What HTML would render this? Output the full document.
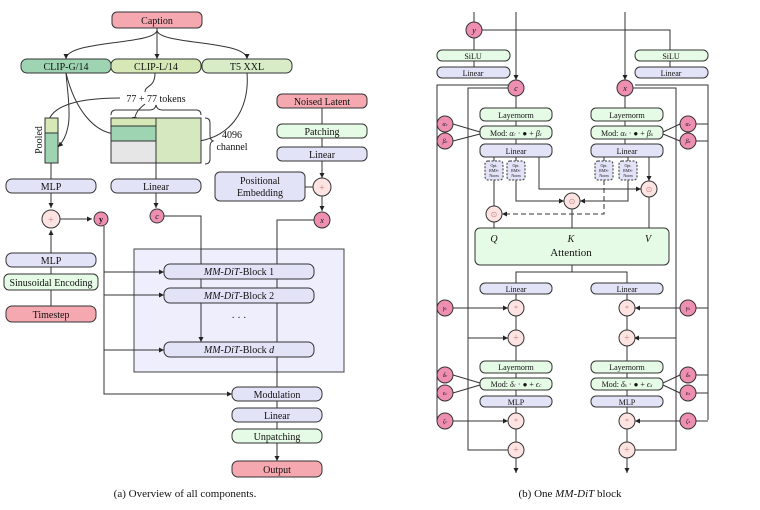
<!DOCTYPE html>
<html><head><meta charset="utf-8"><style>
html,body{margin:0;padding:0;background:#fff;}
svg{display:block;font-family:"Liberation Serif",serif;}
</style></head><body>
<svg width="760" height="510" viewBox="0 0 760 510" xmlns="http://www.w3.org/2000/svg">
<defs>
<marker id="a" markerWidth="6" markerHeight="6" refX="5" refY="3" orient="auto" markerUnits="userSpaceOnUse"><path d="M0,0.5 L5,3 L0,5.5 z" fill="#222"/></marker>
</defs>
<g stroke="#333" stroke-width="1" fill="none">
<path d="M157,28 V59" marker-end="url(#a)"/>
<path d="M157,30 C157,45 66,40 66,59" marker-end="url(#a)"/>
<path d="M157,30 C157,45 247,40 247,59" marker-end="url(#a)"/>
<path d="M155,73 C155,88 145,85 145,92"/>
<path d="M145,104 C140,108 135,112 134,122" marker-end="url(#a)"/>
<path d="M120,98 C80,98 50,105 48,124" marker-end="url(#a)"/>
<path d="M66,73 C68,100 75,130 58,147" marker-end="url(#a)"/>
<path d="M66,73 C75,110 95,134 118,134" marker-end="url(#a)"/>
<path d="M247,73 C250,110 230,142 186,142" marker-end="url(#a)"/>
<path d="M111,115 q0,-5 5,-5 h34 q5,0 6,-5 q1,5 6,5 h34 q5,0 5,5"/>
<path d="M205,118 q5,0 5,5 v12 q0,5 3,6 q-3,1 -3,6 v12 q0,5 -5,5"/>
<path d="M51,163 V179"/>
<path d="M156,163 V179"/>
<path d="M51,193 V208" marker-end="url(#a)"/>
<path d="M60,219 H92" marker-end="url(#a)"/>
<path d="M51,253 V230" marker-end="url(#a)"/>
<path d="M51,267 V274 M51,290 V306"/>
<path d="M156,193 V208" marker-end="url(#a)"/>
<path d="M164,216 H201 V342" marker-end="url(#a)"/>
<path d="M322,108 V124 M322,138 V147"/>
<path d="M322,161 V178" marker-end="url(#a)"/>
<path d="M305,187 H314"/>
<path d="M322,196 V211" marker-end="url(#a)"/>
<path d="M314,220 H277 V387"/>
<path d="M104,226 V394 H232" marker-end="url(#a)"/>
<path d="M277,401 V408 M277,422 V429"/>
<path d="M277,443 V461" marker-end="url(#a)"/>
</g>
<rect x="134" y="249" width="210" height="123" fill="#eeeefc" stroke="#444" stroke-width="1"/>
<g stroke="#333" stroke-width="1" fill="none">
<path d="M201,249 V342" marker-end="url(#a)"/>
<path d="M277,249 V387"/>
<path d="M104,272 H164" marker-end="url(#a)"/>
<path d="M104,295 H164" marker-end="url(#a)"/>
<path d="M104,350 H164" marker-end="url(#a)"/>
</g>
<g stroke="#333" stroke-width="1">
<rect x="112" y="12" width="90" height="16" rx="5" fill="#f6a8b0"/>
<rect x="21" y="59" width="90" height="14" rx="6" fill="#9fd4b3"/>
<rect x="111" y="59" width="90" height="14" rx="6" fill="#d5e8b5"/>
<rect x="202" y="59" width="90" height="14" rx="6" fill="#d8ecc8"/>
<rect x="111" y="118" width="90" height="45" fill="#d5e8c0"/>
<rect x="111" y="118" width="45" height="8" fill="#d5e8b5"/>
<rect x="111" y="126" width="45" height="15" fill="#9fd4b3"/>
<rect x="111" y="141" width="45" height="22" fill="#e6e6e6"/>
<rect x="45" y="118" width="13" height="15" fill="#d5e8b5"/>
<rect x="45" y="133" width="13" height="30" fill="#9fd4b3"/>
<rect x="6" y="179" width="90" height="14" rx="6" fill="#e3e3f8"/>
<rect x="111" y="179" width="90" height="14" rx="6" fill="#e3e3f8"/>
<circle cx="51" cy="219" r="9" fill="#fde4e2"/>
<circle cx="101" cy="219" r="7" fill="#ee8fb2"/>
<circle cx="157" cy="216" r="7" fill="#ee8fb2"/>
<rect x="277" y="94" width="90" height="14" rx="5" fill="#f6a8b0"/>
<rect x="277" y="124" width="90" height="14" rx="5" fill="#e6fbe6"/>
<rect x="277" y="147" width="90" height="14" rx="5" fill="#e3e3f8"/>
<rect x="215" y="172" width="90" height="29" rx="5" fill="#e3e3f8"/>
<circle cx="322" cy="187" r="9" fill="#fde4e2"/>
<circle cx="322" cy="220" r="8" fill="#ee8fb2"/>
<rect x="6" y="253" width="90" height="14" rx="6" fill="#e3e3f8"/>
<rect x="4" y="274" width="94" height="16" rx="5" fill="#e6fbe6"/>
<rect x="6" y="306" width="90" height="16" rx="6" fill="#f6a8b0"/>
<rect x="164" y="264" width="150" height="15" rx="6" fill="#e3e3f8"/>
<rect x="164" y="288" width="150" height="15" rx="6" fill="#e3e3f8"/>
<rect x="164" y="342" width="150" height="15" rx="6" fill="#e3e3f8"/>
<rect x="232" y="387" width="90" height="14" rx="6" fill="#e3e3f8"/>
<rect x="232" y="408" width="90" height="14" rx="6" fill="#e3e3f8"/>
<rect x="232" y="429" width="90" height="14" rx="6" fill="#e6fbe6"/>
<rect x="232" y="461" width="90" height="16" rx="6" fill="#f6a8b0"/>
</g>
<g font-size="10" fill="#111" text-anchor="middle">
<text x="157" y="24">Caption</text>
<text x="66" y="70">CLIP-G/14</text>
<text x="156" y="70">CLIP-L/14</text>
<text x="247" y="70">T5 XXL</text>
<text x="156" y="102">77 + 77 tokens</text>
<text x="232" y="138">4096</text>
<text x="232" y="150">channel</text>
<text x="0" y="0" transform="translate(42,140) rotate(-90)">Pooled</text>
<text x="51" y="190">MLP</text>
<text x="156" y="190">Linear</text>
<text x="51" y="223" fill="#c88">+</text>
<text x="101" y="222" font-size="8" font-weight="bold">y</text>
<text x="157" y="219" font-size="8" font-style="italic">c</text>
<text x="322" y="105">Noised Latent</text>
<text x="322" y="135">Patching</text>
<text x="322" y="158">Linear</text>
<text x="260" y="184">Positional</text>
<text x="260" y="196">Embedding</text>
<text x="322" y="191" fill="#c88">+</text>
<text x="322" y="223" font-size="8" font-style="italic">x</text>
<text x="51" y="264">MLP</text>
<text x="51" y="286">Sinusoidal Encoding</text>
<text x="51" y="318">Timestep</text>
<text x="239" y="275"><tspan font-style="italic">MM-DiT</tspan>-Block 1</text>
<text x="239" y="299"><tspan font-style="italic">MM-DiT</tspan>-Block 2</text>
<text x="239" y="321">· · ·</text>
<text x="239" y="353"><tspan font-style="italic">MM-DiT</tspan>-Block <tspan font-style="italic">d</tspan></text>
<text x="277" y="398">Modulation</text>
<text x="277" y="419">Linear</text>
<text x="277" y="440">Unpatching</text>
<text x="277" y="473">Output</text>
<text x="185" y="497" font-size="11">(a) Overview of all components.</text>
<text x="570" y="497" font-size="11">(b) One <tspan font-style="italic">MM-DiT</tspan> block</text>
</g>

<g stroke="#333" stroke-width="1" fill="none">
<path d="M474,12 V22"/>
<path d="M474,38 V50 M474,61 V67"/>
<path d="M482,30 H670 V50 M670,61 V67"/>
<path d="M516,12 V80" marker-end="url(#a)"/>
<path d="M625,12 V80" marker-end="url(#a)"/>
<path d="M510,85 H437 V420"/>
<path d="M635,85 H708 V420"/>
<path d="M508,88 H468 V450 H508" />
<path d="M633,88 H676 V450 H634" />
<path d="M468,338 H508" marker-end="url(#a)"/>
<path d="M676,338 H634" marker-end="url(#a)"/>
<path d="M516,96 V108 M516,121 V126 M516,139 V144"/>
<path d="M625,96 V108 M625,121 V126 M625,139 V144"/>
<path d="M453,124 L480,132 M453,141 L480,134"/>
<path d="M680,124 L663,132 M680,141 L663,134"/>
<path d="M708,124 H696 M708,141 H696"/>
<path d="M494,157 V161 M494,180 V206" />
<path d="M516,157 V161 M516,180 V201 H564" marker-end="url(#a)"/>
<path d="M539,157 V189 H641" marker-end="url(#a)"/>
<path d="M649,157 V181" marker-end="url(#a)"/>
<path d="M649,197 V228"/>
<path d="M604,157 V161 M628,157 V161"/>
<path d="M604,180 V214 H502" stroke-dasharray="5,3" marker-end="url(#a)"/>
<path d="M628,180 V201 H580" marker-end="url(#a)"/>
<path d="M572,209 V228 M494,222 V228"/>
<path d="M572,265 V272 H516 V283 M572,272 H627 V283"/>
<path d="M516,294 V300 M627,294 V300"/>
<path d="M516,316 V330 M627,316 V330" />
<path d="M516,346 V361 M516,373 V378 M516,390 V396 M516,407 V413"/>
<path d="M627,346 V361 M627,373 V378 M627,390 V396 M627,407 V413"/>
<path d="M516,429 V442 M627,429 V442"/>
<path d="M516,458 V473" marker-end="url(#a)"/>
<path d="M627,458 V473" marker-end="url(#a)"/>
<path d="M453,308 H508" marker-end="url(#a)"/>
<path d="M696,308 H635" marker-end="url(#a)"/>
<path d="M453,375 L480,383 M453,393 L480,385"/>
<path d="M680,375 L663,383 M680,393 L663,385"/>
<path d="M453,421 H508" marker-end="url(#a)"/>
<path d="M680,421 H635" marker-end="url(#a)"/>
<path d="M708,308 H696 M708,375 H696 M708,393 H696 M708,421 H696"/>
</g>
<g stroke="#333" stroke-width="1">
<circle cx="474" cy="30" r="8" fill="#ee8fb2"/>
<rect x="437" y="50" width="73" height="11" rx="5" fill="#e6fbe6"/>
<rect x="437" y="67" width="73" height="11" rx="5" fill="#e3e3f8"/>
<rect x="635" y="50" width="73" height="11" rx="5" fill="#e6fbe6"/>
<rect x="635" y="67" width="73" height="11" rx="5" fill="#e3e3f8"/>
<circle cx="516" cy="88" r="8" fill="#ee8fb2"/>
<circle cx="625" cy="88" r="8" fill="#ee8fb2"/>
<rect x="480" y="108" width="72" height="13" rx="5" fill="#e6fbe6"/>
<rect x="480" y="126" width="72" height="13" rx="5" fill="#e6fbe6"/>
<rect x="480" y="144" width="72" height="13" rx="5" fill="#e3e3f8"/>
<rect x="591" y="108" width="72" height="13" rx="5" fill="#e6fbe6"/>
<rect x="591" y="126" width="72" height="13" rx="5" fill="#e6fbe6"/>
<rect x="591" y="144" width="72" height="13" rx="5" fill="#e3e3f8"/>
<circle cx="445" cy="124" r="8" fill="#ee8fb2"/>
<circle cx="445" cy="141" r="8" fill="#ee8fb2"/>
<circle cx="688" cy="124" r="8" fill="#ee8fb2"/>
<circle cx="688" cy="141" r="8" fill="#ee8fb2"/>
<g fill="#e3e3f8" stroke-dasharray="2,1.5">
<rect x="485" y="161" width="18" height="19" rx="3"/>
<rect x="507" y="161" width="18" height="19" rx="3"/>
<rect x="595" y="161" width="18" height="19" rx="3"/>
<rect x="619" y="161" width="18" height="19" rx="3"/>
</g>
<circle cx="494" cy="214" r="8" fill="#fde4e2"/>
<circle cx="572" cy="201" r="8" fill="#fde4e2"/>
<circle cx="649" cy="189" r="8" fill="#fde4e2"/>
<rect x="475" y="228" width="194" height="37" rx="5" fill="#e6fbe6"/>
<rect x="480" y="283" width="72" height="11" rx="5" fill="#e3e3f8"/>
<rect x="591" y="283" width="72" height="11" rx="5" fill="#e3e3f8"/>
<circle cx="516" cy="308" r="8" fill="#fde4e2"/>
<circle cx="627" cy="308" r="8" fill="#fde4e2"/>
<circle cx="516" cy="338" r="8" fill="#fde4e2"/>
<circle cx="627" cy="338" r="8" fill="#fde4e2"/>
<rect x="480" y="361" width="72" height="12" rx="5" fill="#e6fbe6"/>
<rect x="480" y="378" width="72" height="12" rx="5" fill="#e6fbe6"/>
<rect x="480" y="396" width="72" height="11" rx="5" fill="#e3e3f8"/>
<rect x="591" y="361" width="72" height="12" rx="5" fill="#e6fbe6"/>
<rect x="591" y="378" width="72" height="12" rx="5" fill="#e6fbe6"/>
<rect x="591" y="396" width="72" height="11" rx="5" fill="#e3e3f8"/>
<circle cx="516" cy="421" r="8" fill="#fde4e2"/>
<circle cx="627" cy="421" r="8" fill="#fde4e2"/>
<circle cx="516" cy="450" r="8" fill="#fde4e2"/>
<circle cx="627" cy="450" r="8" fill="#fde4e2"/>
<circle cx="445" cy="308" r="8" fill="#ee8fb2"/>
<circle cx="445" cy="375" r="8" fill="#ee8fb2"/>
<circle cx="445" cy="393" r="8" fill="#ee8fb2"/>
<circle cx="445" cy="421" r="8" fill="#ee8fb2"/>
<circle cx="688" cy="308" r="8" fill="#ee8fb2"/>
<circle cx="688" cy="375" r="8" fill="#ee8fb2"/>
<circle cx="688" cy="393" r="8" fill="#ee8fb2"/>
<circle cx="688" cy="421" r="8" fill="#ee8fb2"/>
</g>
<g font-size="8" fill="#111" text-anchor="middle">
<text x="474" y="33" font-style="italic">y</text>
<text x="473" y="59">SiLU</text>
<text x="473" y="76">Linear</text>
<text x="671" y="59">SiLU</text>
<text x="671" y="76">Linear</text>
<text x="516" y="91" font-style="italic">c</text>
<text x="625" y="91" font-style="italic">x</text>
<text x="516" y="118">Layernorm</text>
<text x="516" y="136">Mod: <tspan font-style="italic">α<tspan font-size="5">c</tspan></tspan> · ● + <tspan font-style="italic">β<tspan font-size="5">c</tspan></tspan></text>
<text x="516" y="154">Linear</text>
<text x="627" y="118">Layernorm</text>
<text x="627" y="136">Mod: <tspan font-style="italic">α<tspan font-size="5">x</tspan></tspan> · ● + <tspan font-style="italic">β<tspan font-size="5">x</tspan></tspan></text>
<text x="627" y="154">Linear</text>
<g font-size="4"><text x="494" y="167">Opt.</text><text x="494" y="172">RMS-</text><text x="494" y="177">Norm</text>
<text x="516" y="167">Opt.</text><text x="516" y="172">RMS-</text><text x="516" y="177">Norm</text>
<text x="604" y="167">Opt.</text><text x="604" y="172">RMS-</text><text x="604" y="177">Norm</text>
<text x="628" y="167">Opt.</text><text x="628" y="172">RMS-</text><text x="628" y="177">Norm</text></g>
<g fill="#c88"><text x="494" y="217">⊙</text><text x="572" y="204">⊙</text><text x="649" y="192">⊙</text>
<text x="516" y="311">*</text><text x="627" y="311">*</text><text x="516" y="424">*</text><text x="627" y="424">*</text>
<text x="516" y="341" font-size="10">+</text><text x="627" y="341" font-size="10">+</text><text x="516" y="453" font-size="10">+</text><text x="627" y="453" font-size="10">+</text></g>
<text x="494" y="242" font-size="10" font-style="italic">Q</text>
<text x="571" y="242" font-size="10" font-style="italic">K</text>
<text x="648" y="242" font-size="10" font-style="italic">V</text>
<text x="571" y="256" font-size="11">Attention</text>
<text x="516" y="292">Linear</text>
<text x="627" y="292">Linear</text>
<text x="516" y="370">Layernorm</text>
<text x="516" y="387">Mod: <tspan font-style="italic">δ<tspan font-size="5">c</tspan></tspan> · ● + <tspan font-style="italic">ϵ<tspan font-size="5">c</tspan></tspan></text>
<text x="516" y="405">MLP</text>
<text x="627" y="370">Layernorm</text>
<text x="627" y="387">Mod: <tspan font-style="italic">δ<tspan font-size="5">x</tspan></tspan> · ● + <tspan font-style="italic">ϵ<tspan font-size="5">x</tspan></tspan></text>
<text x="627" y="405">MLP</text>
<g font-size="6" font-style="italic">
<text x="445" y="126">α<tspan font-size="4">c</tspan></text><text x="445" y="143">β<tspan font-size="4">c</tspan></text>
<text x="688" y="126">α<tspan font-size="4">x</tspan></text><text x="688" y="143">β<tspan font-size="4">x</tspan></text>
<text x="445" y="310">γ<tspan font-size="4">c</tspan></text><text x="445" y="377">δ<tspan font-size="4">c</tspan></text>
<text x="445" y="395">ϵ<tspan font-size="4">c</tspan></text><text x="445" y="423">ζ<tspan font-size="4">c</tspan></text>
<text x="688" y="310">γ<tspan font-size="4">x</tspan></text><text x="688" y="377">δ<tspan font-size="4">x</tspan></text>
<text x="688" y="395">ϵ<tspan font-size="4">x</tspan></text><text x="688" y="423">ζ<tspan font-size="4">x</tspan></text>
</g>
</g>
</svg>
</body></html>
